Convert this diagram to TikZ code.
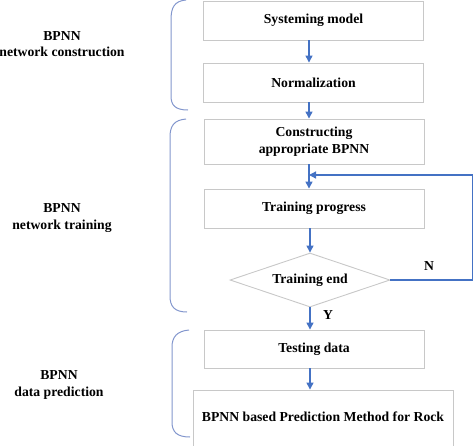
\documentclass[tikz,border=0pt]{standalone}
\usepackage{fontspec}
\setmainfont{Liberation Serif}
\usetikzlibrary{arrows.meta,shapes.geometric}
\definecolor{boxgray}{RGB}{200,200,200}
\definecolor{arrowblue}{RGB}{68,114,196}
\definecolor{braceblue}{RGB}{130,150,205}
\begin{document}
\begin{tikzpicture}[x=1pt,y=-1pt,
  every node/.style={font=\fontsize{13.7}{16.5}\selectfont\bfseries},
  box/.style={draw=boxgray,line width=0.9pt,rectangle,minimum width=220pt,inner sep=0pt,align=center},
  dec/.style={draw=boxgray,line width=0.9pt,diamond,aspect=2.96,minimum width=160pt,minimum height=54pt,inner sep=0pt},
  flow/.style={draw=arrowblue,line width=1.3pt,-{Triangle[width=7pt,length=7pt]}},
  brace/.style={draw=braceblue,line width=1pt},
  lbl/.style={align=center,inner sep=0pt}]
\useasboundingbox (0,0) rectangle (474,445);
\clip (0,0) rectangle (474,445);
% boxes
\node[box,minimum height=39pt] (b1) at (313.5,20.5) {Systeming model};
\node[box,minimum height=39pt] (b2) at (313.5,82.5) {Normalization};
\node[box,minimum height=45pt] (b3) at (314,141.5) {Constructing\\appropriate BPNN};
\node[box,minimum height=39pt] (b4) at (314,208.5) {Training progress};
\node[dec] (d) at (310,280) {Training end};
\node[box,minimum height=38pt] (b5) at (314,349) {Testing data};
\node[box,minimum width=260pt,minimum height=64pt] (b6) at (323,422) {};
\node[inner sep=0pt] (t6) at (323,417) {BPNN based Prediction Method for Rock};
% connectors
\draw[flow] (b1.south -| 309,0) -- (b2.north -| 309,0);
\draw[flow] (b2.south -| 309,0) -- (b3.north -| 309,0);
\draw[flow] (b3.south -| 309,0) -- (b4.north -| 309,0);
\draw[flow] (b4.south -| 310,0) -- (d.north);
\draw[flow] (d.south) -- (b5.north -| 310,0);
\draw[flow] (b5.south -| 310,0) -- (b6.north -| 310,0);
\coordinate (j) at (309,175);
\coordinate (r) at (472.5,280);
\draw[flow] (d.east) -- (r) |- (j);
\node[inner sep=0pt] (N) at (429,266) {N};
\node[inner sep=0pt] (Y) at (328,315) {Y};
% braces
\draw[brace] (186,0) .. controls (174,1) and (171,8) .. (171,20) -- (171,96) .. controls (171,105) and (175,110) .. (188,110);
\draw[brace] (186,119) .. controls (174,120) and (170,126) .. (170,137) -- (170,296) .. controls (170,306) and (174,312) .. (187,312);
\draw[brace] (189,330) .. controls (177,331) and (172,337) .. (172,347) -- (172,422) .. controls (172,432) and (177,437) .. (190,437);
% side labels
\node[lbl] (l1) at (62,44) {BPNN\\network construction};
\node[lbl] (l2) at (62,218) {BPNN\\network training};
\node[lbl] (l3) at (59,385) {BPNN\\data prediction};
\end{tikzpicture}
\end{document}
